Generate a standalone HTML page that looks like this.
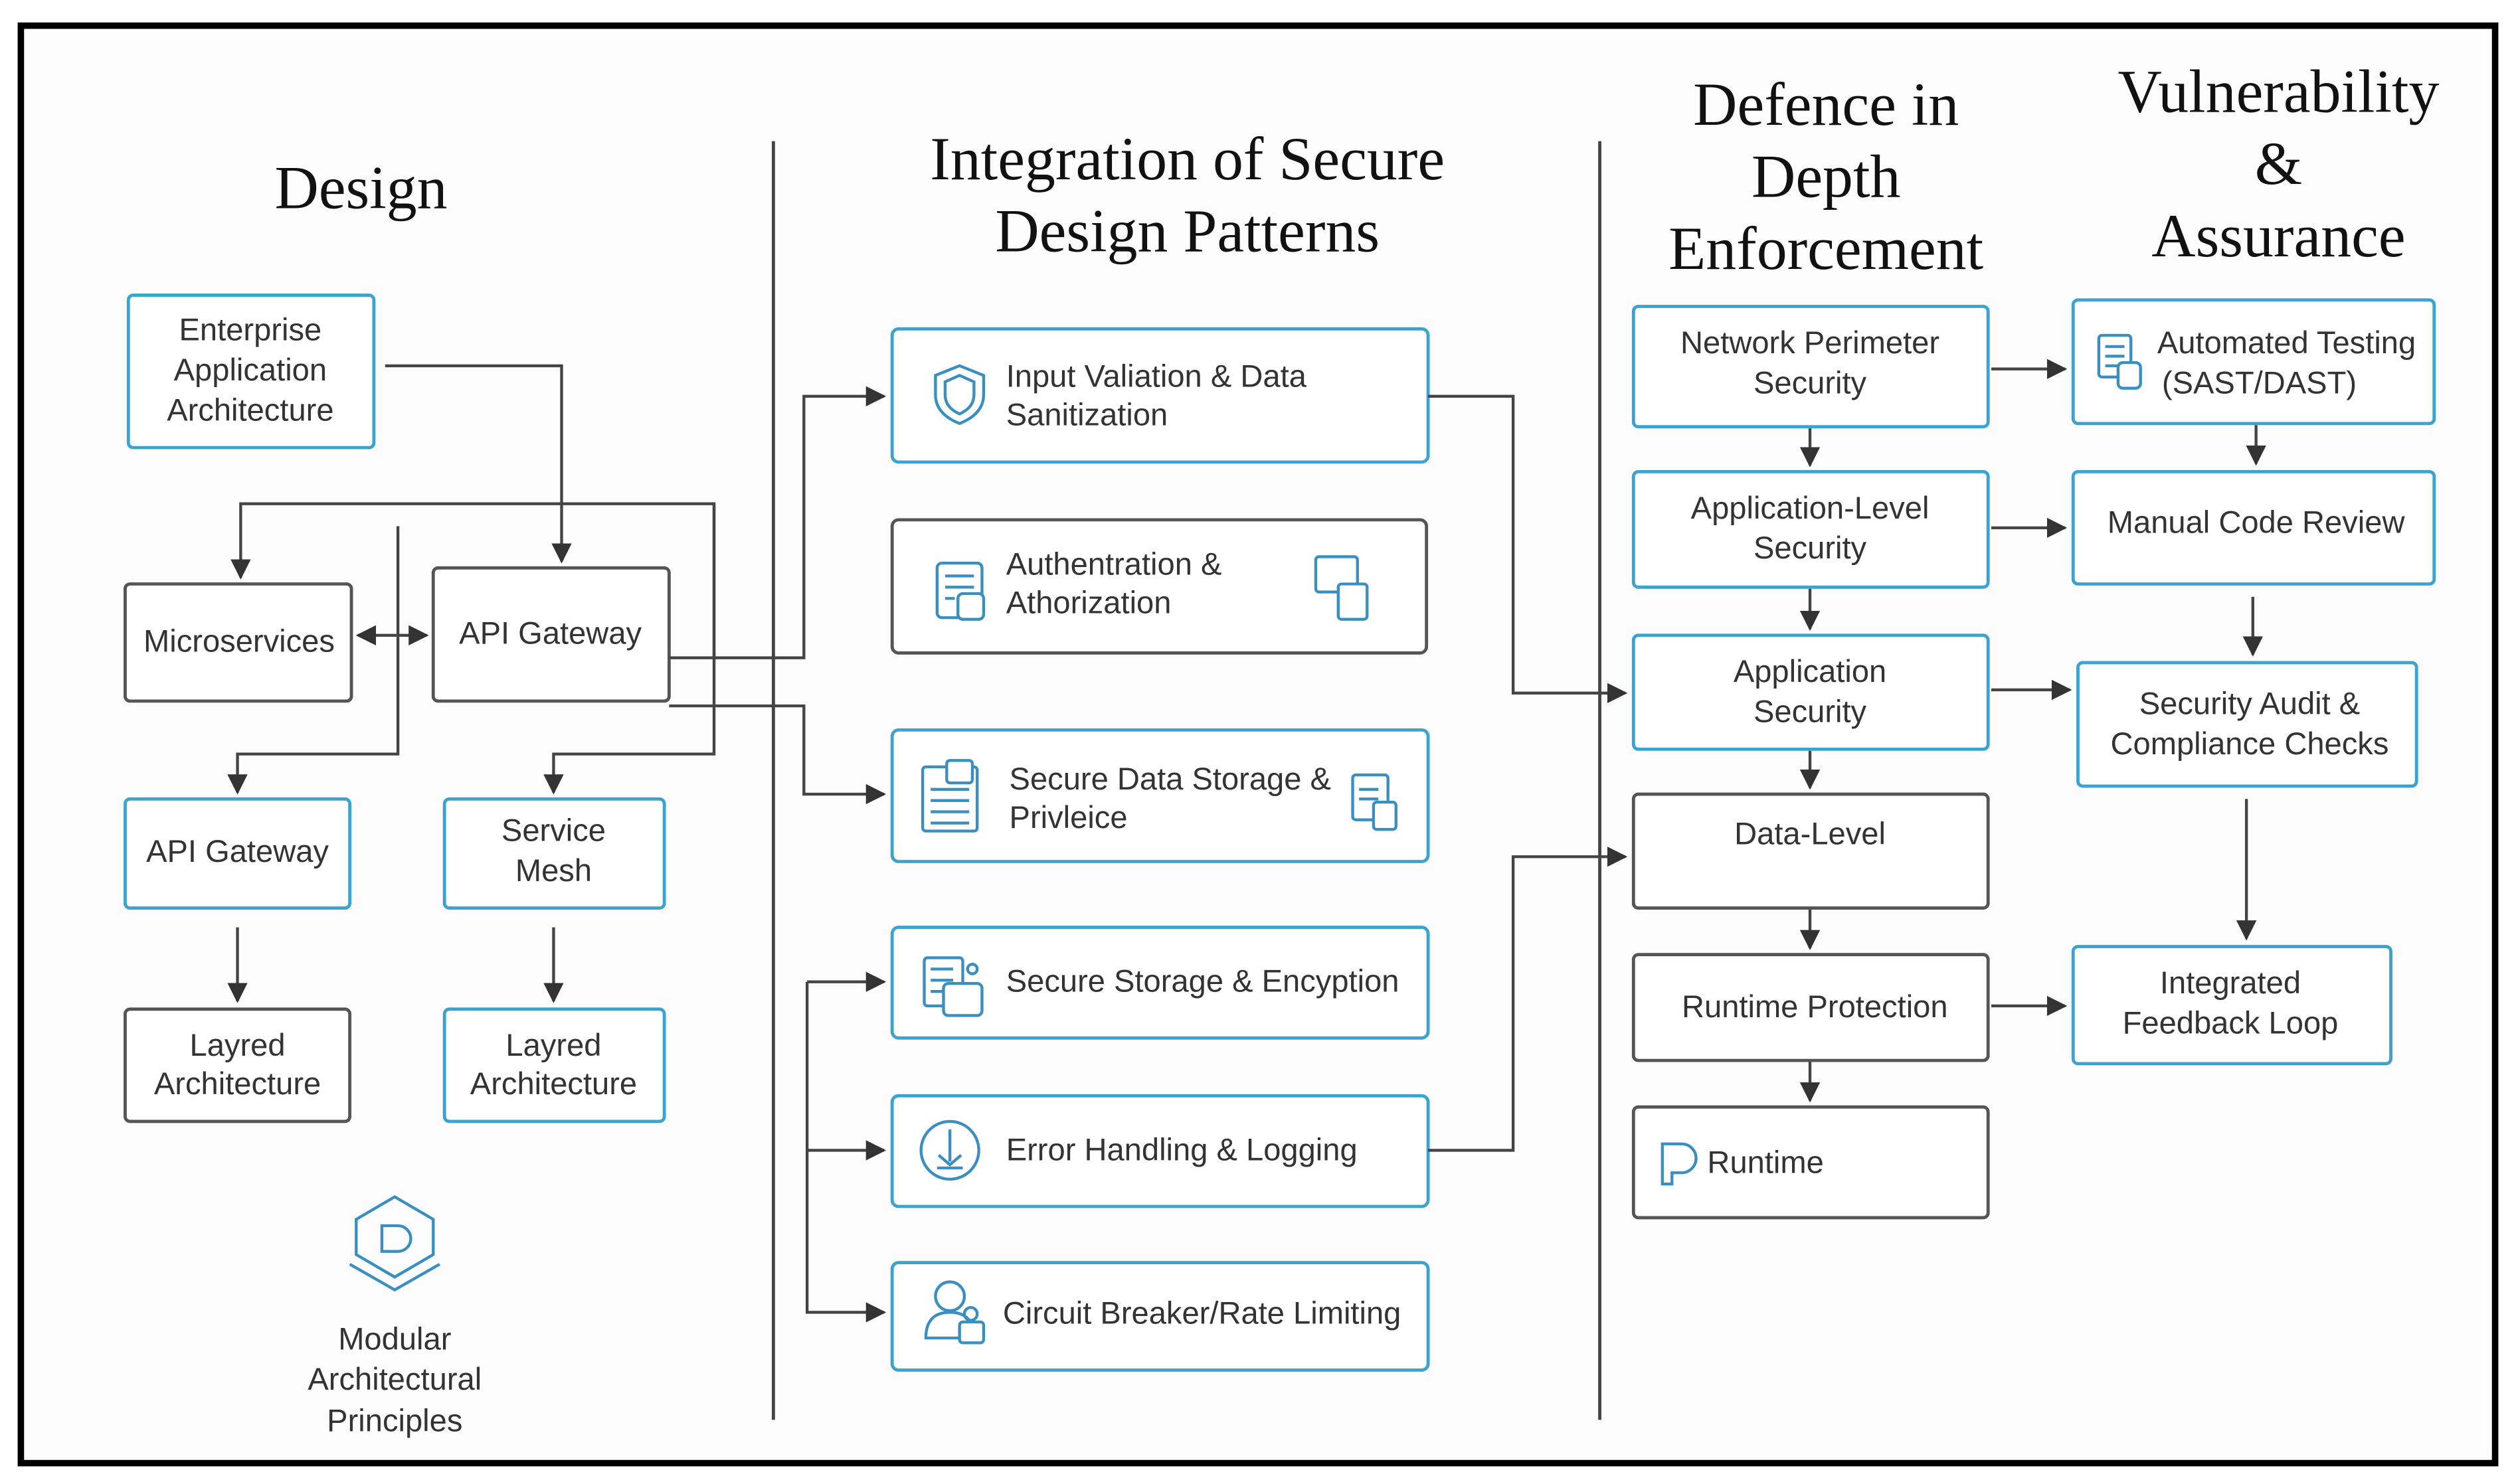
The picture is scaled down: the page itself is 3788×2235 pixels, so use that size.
<!DOCTYPE html>
<html><head><meta charset="utf-8"><style>
html,body{margin:0;padding:0;background:#fff;}
svg{display:block;}
.t{font-family:"Liberation Sans",sans-serif;font-size:19.5px;fill:#333;text-anchor:middle;dominant-baseline:middle;}
.tl{font-family:"Liberation Sans",sans-serif;font-size:19.5px;fill:#333;dominant-baseline:middle;}
.h{font-family:"Liberation Serif",serif;font-size:38px;fill:#111;text-anchor:middle;dominant-baseline:middle;}
.b{fill:#fff;stroke:#3aa3cf;stroke-width:2;}
.g{fill:#fff;stroke:#555;stroke-width:2;}
.l{fill:none;stroke:#444;stroke-width:1.8;}
.i{fill:none;stroke:#3a8fc0;stroke-width:1.8;}
</style></head><body>
<svg width="3788" height="2235" viewBox="0 0 1568 925" preserveAspectRatio="none" xmlns="http://www.w3.org/2000/svg">
<defs><marker id="a" viewBox="0 0 10 10" refX="9" refY="5" markerWidth="7" markerHeight="7" orient="auto-start-reverse"><path d="M0,0L10,5L0,10z" fill="#333"/></marker></defs>
<rect x="0" y="0" width="1568" height="925" fill="#fff"/>
<rect x="13" y="16" width="1542" height="896" fill="#fcfcfc" stroke="#000" stroke-width="4"/>
<!-- headings -->
<text class="h" x="225" y="121">Design</text>
<text class="h" x="740" y="103">Integration of Secure</text>
<text class="h" x="740" y="148">Design Patterns</text>
<text class="h" x="1138" y="69">Defence in</text>
<text class="h" x="1138" y="114">Depth</text>
<text class="h" x="1138" y="159">Enforcement</text>
<text class="h" x="1420" y="61">Vulnerability</text>
<text class="h" x="1420" y="106">&amp;</text>
<text class="h" x="1420" y="151">Assurance</text>
<line x1="482" y1="88" x2="482" y2="885" stroke="#444" stroke-width="2"/>
<line x1="997" y1="88" x2="997" y2="885" stroke="#444" stroke-width="2"/>
<!-- col1 boxes -->
<rect class="b" x="80" y="184" width="153" height="95" rx="3"/>
<text class="t" x="156" y="207">Enterprise</text><text class="t" x="156" y="232">Application</text><text class="t" x="156" y="257">Architecture</text>
<rect class="g" x="78" y="364" width="141" height="73" rx="3"/><text class="t" x="149" y="401">Microservices</text>
<rect class="g" x="270" y="354" width="147" height="83" rx="3"/><text class="t" x="343" y="396">API Gateway</text>
<rect class="b" x="78" y="498" width="140" height="68" rx="3"/><text class="t" x="148" y="532">API Gateway</text>
<rect class="b" x="277" y="498" width="137" height="68" rx="3"/><text class="t" x="345" y="519">Service</text><text class="t" x="345" y="544">Mesh</text>
<rect class="g" x="78" y="629" width="140" height="70" rx="3"/><text class="t" x="148" y="653">Layred</text><text class="t" x="148" y="677">Architecture</text>
<rect class="b" x="277" y="629" width="137" height="70" rx="3"/><text class="t" x="345" y="653">Layred</text><text class="t" x="345" y="677">Architecture</text>
<g class="i" stroke-width="2.2"><path d="M246,746 l24,14 v22 l-24,14 l-24,-14 v-22z"/><path d="M218,788 l28,16 l28,-16"/><path d="M238,764 h10 a8,8 0 0 1 0,16 h-10z"/></g>
<text class="t" x="246" y="836">Modular</text><text class="t" x="246" y="861">Architectural</text><text class="t" x="246" y="887">Principles</text>
<!-- col1 connectors -->
<path class="l" d="M240,228 H350 V350" marker-end="url(#a)"/>
<path class="l" d="M445,410 V314 H150 V360" marker-end="url(#a)"/>
<path class="l" d="M445,314 V470 H345 V494" marker-end="url(#a)"/>
<path class="l" d="M248,328 V470 H148 V494" marker-end="url(#a)"/>
<path class="l" d="M223,396 H266" marker-start="url(#a)" marker-end="url(#a)"/>
<path class="l" d="M148,578 V624" marker-end="url(#a)"/>
<path class="l" d="M345,578 V624" marker-end="url(#a)"/>
<path class="l" d="M417,410 H501 V247 H551" marker-end="url(#a)"/>
<path class="l" d="M417,440 H501 V495 H551" marker-end="url(#a)"/>
<!-- col2 -->
<rect class="b" x="556" y="205" width="334" height="83" rx="4"/>
<g class="i"><path d="M598,228 l15,6 v12 q0,12 -15,18 q-15,-6 -15,-18 v-12z"/><path d="M598,234 l9,4 v8 q0,8 -9,12 q-9,-4 -9,-12 v-8z"/></g>
<text class="tl" x="627" y="236">Input Valiation &amp; Data</text><text class="tl" x="627" y="260">Sanitization</text>
<rect class="g" x="556" y="324" width="333" height="83" rx="4"/>
<g class="i"><rect x="584" y="351" width="28" height="34" rx="3"/><path d="M589,359h18M589,366h18M589,373h6"/><rect x="597" y="370" width="16" height="16" rx="3" fill="#fff"/><rect x="820" y="347" width="26" height="22" rx="2"/><rect x="834" y="364" width="18" height="22" rx="2" fill="#fff"/></g>
<text class="tl" x="627" y="353">Authentration &amp;</text><text class="tl" x="627" y="377">Athorization</text>
<rect class="b" x="556" y="455" width="334" height="82" rx="4"/>
<g class="i"><rect x="575" y="478" width="34" height="40" rx="2"/><path d="M580,492h24M580,499h24M580,506h24M580,513h24"/><rect x="590" y="474" width="16" height="14" rx="2" fill="#fff"/><rect x="843" y="483" width="22" height="28" rx="2"/><path d="M847,492h12M847,498h12"/><rect x="856" y="500" width="14" height="17" rx="2" fill="#fff"/></g>
<text class="tl" x="629" y="487">Secure Data Storage &amp;</text><text class="tl" x="629" y="511">Privleice</text>
<rect class="b" x="556" y="578" width="334" height="69" rx="4"/>
<g class="i"><rect x="576" y="597" width="24" height="30" rx="2"/><path d="M580,604h14M580,611h14M580,618h8"/><rect x="588" y="613" width="24" height="20" rx="3" fill="#fff"/><circle cx="606" cy="604" r="3"/></g>
<text class="tl" x="627" y="613">Secure Storage &amp; Encyption</text>
<rect class="b" x="556" y="683" width="334" height="69" rx="4"/>
<g class="i"><circle cx="592" cy="717" r="18"/><path d="M592,704v20M585,720l7,6l7,-6M584,728h16"/></g>
<text class="tl" x="627" y="718">Error Handling &amp; Logging</text>
<rect class="b" x="556" y="787" width="334" height="67" rx="4"/>
<g class="i"><circle cx="592" cy="808" r="9"/><path d="M577,834 q0,-16 15,-16 q15,0 15,16z"/><rect x="598" y="824" width="15" height="13" rx="2" fill="#fff"/><circle cx="605" cy="819" r="4"/></g>
<text class="tl" x="625" y="820">Circuit Breaker/Rate Limiting</text>
<path class="l" d="M503,612 H551" marker-end="url(#a)"/>
<path class="l" d="M503,612 V818 H551" marker-end="url(#a)"/>
<path class="l" d="M503,717 H551" marker-end="url(#a)"/>
<path class="l" d="M890,247 H943 V432 H1013" marker-end="url(#a)"/>
<path class="l" d="M890,717 H943 V534 H1013" marker-end="url(#a)"/>
<!-- col3 -->
<rect class="b" x="1018" y="191" width="221" height="75" rx="3"/><text class="t" x="1128" y="215">Network Perimeter</text><text class="t" x="1128" y="240">Security</text>
<rect class="b" x="1018" y="294" width="221" height="72" rx="3"/><text class="t" x="1128" y="318">Application-Level</text><text class="t" x="1128" y="343">Security</text>
<rect class="b" x="1018" y="396" width="221" height="71" rx="3"/><text class="t" x="1128" y="420">Application</text><text class="t" x="1128" y="445">Security</text>
<rect class="g" x="1018" y="495" width="221" height="71" rx="3"/><text class="t" x="1128" y="521">Data-Level</text>
<rect class="g" x="1018" y="595" width="221" height="66" rx="3"/><text class="t" x="1131" y="629">Runtime Protection</text>
<rect class="g" x="1018" y="690" width="221" height="69" rx="3"/>
<path class="i" stroke-width="2.2" d="M1036,738 V713 H1048 a9,9 0 0 1 0,18 H1042 V738z"/>
<text class="tl" x="1064" y="726">Runtime</text>
<path class="l" d="M1128,267 V290" marker-end="url(#a)"/>
<path class="l" d="M1128,367 V392" marker-end="url(#a)"/>
<path class="l" d="M1128,468 V491" marker-end="url(#a)"/>
<path class="l" d="M1128,567 V591" marker-end="url(#a)"/>
<path class="l" d="M1128,662 V686" marker-end="url(#a)"/>
<!-- col4 -->
<rect class="b" x="1292" y="187" width="225" height="77" rx="3"/>
<g class="i"><rect x="1308" y="209" width="20" height="26" rx="2"/><path d="M1312,216h12M1312,222h12M1312,228h8"/><rect x="1320" y="226" width="14" height="16" rx="3" fill="#fff"/></g>
<text class="t" x="1425" y="215">Automated Testing</text><text class="t" x="1408" y="240">(SAST/DAST)</text>
<rect class="b" x="1292" y="294" width="225" height="70" rx="3"/><text class="t" x="1406" y="327">Manual Code Review</text>
<rect class="b" x="1295" y="413" width="211" height="77" rx="3"/><text class="t" x="1402" y="440">Security Audit &amp;</text><text class="t" x="1402" y="465">Compliance Checks</text>
<rect class="b" x="1292" y="590" width="198" height="73" rx="3"/><text class="t" x="1390" y="614">Integrated</text><text class="t" x="1390" y="639">Feedback Loop</text>
<path class="l" d="M1241,230 H1287" marker-end="url(#a)"/>
<path class="l" d="M1241,329 H1287" marker-end="url(#a)"/>
<path class="l" d="M1241,430 H1290" marker-end="url(#a)"/>
<path class="l" d="M1241,627 H1287" marker-end="url(#a)"/>
<path class="l" d="M1406,265 V289" marker-end="url(#a)"/>
<path class="l" d="M1404,372 V408" marker-end="url(#a)"/>
<path class="l" d="M1400,498 V585" marker-end="url(#a)"/>
</svg>
</body></html>
